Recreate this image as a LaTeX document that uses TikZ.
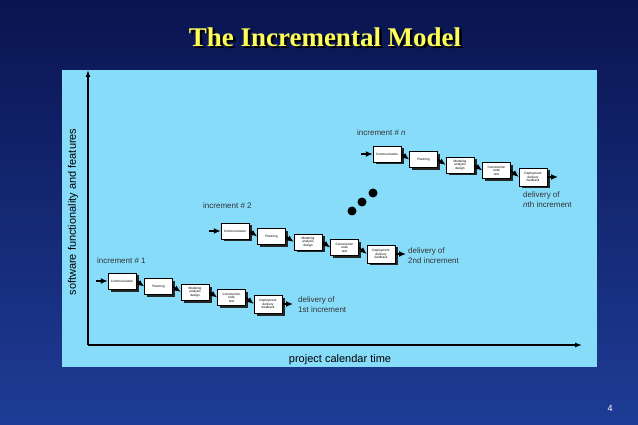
\documentclass[tikz,border=0pt]{standalone}
\usepackage{fontspec}
\setmainfont{Liberation Sans}
\newfontfamily\titlefont{Liberation Serif}
\usetikzlibrary{shadows,arrows.meta}
\definecolor{bgtop}{RGB}{10,20,80}
\definecolor{bgbot}{RGB}{30,60,150}
\definecolor{panel}{RGB}{135,220,250}
\definecolor{titleyel}{RGB}{255,255,90}
\begin{document}
\begin{tikzpicture}[x=1pt,y=-1pt,
  stepbox/.style={draw=black,fill=white,minimum width=28pt,minimum height=16pt,inner sep=0.5pt,align=center,font=\fontsize{3.2}{3.6}\selectfont,drop shadow={fill=black!85,shadow xshift=2.5pt,shadow yshift=-2.5pt,opacity=1}},
  flow/.style={-{Latex[length=7pt,width=6pt]},line width=1.6pt,black},
  lbl/.style={font=\fontsize{8}{9.5}\selectfont,text=black!80,align=left,anchor=north west,inner sep=0}]
\useasboundingbox (0,0) rectangle (638,425);
\shade[top color=bgtop,bottom color=bgbot] (0,0) rectangle (638,425);
\fill[panel] (62,70) rectangle (597,367);
\node[font=\titlefont\bfseries\fontsize{27}{30}\selectfont,text=black] (tshadow) at (327.5,39.5) {The Incremental Model};
\node[font=\titlefont\bfseries\fontsize{27}{30}\selectfont,text=titleyel] (title) at (325,37) {The Incremental Model};
\coordinate (o) at (88,345);
\coordinate (ytop) at (88,70);
\coordinate (xend) at (582,345);
\draw[-{Latex[length=7pt,width=5pt]},line width=1.2pt] (o) -- (ytop);
\draw[-{Latex[length=7pt,width=5pt]},line width=1.2pt] (o) -- (xend);
\node[rotate=90,font=\fontsize{11}{13}\selectfont] (ylab) at (73,212) {software functionality and features};
\node[font=\fontsize{11}{13}\selectfont] (xlab) at (340,360) {project calendar time};
\node[font=\fontsize{9}{11}\selectfont,text=white] (page) at (610,408) {4};
\newcommand\incr[3]{%
  \node[stepbox] (#1c1) at (#2,#3) {Communication};
  \node[stepbox] (#1c2) at (#2+36.5,#3+5.5) {Planning};
  \node[stepbox] (#1c3) at (#2+73,#3+11) {Modeling\\analysis\\design};
  \node[stepbox] (#1c4) at (#2+109.5,#3+16.5) {Construction\\code\\test};
  \node[stepbox,minimum height=18pt] (#1c5) at (#2+146,#3+23) {Deployment\\delivery\\feedback};
  \coordinate (#1in) at (#2-26,#3);
  \coordinate (#1out) at (#2+171,#3+23);
  \draw[flow] (#1in) -- (#1c1.west);
  \draw[flow] (#1c1.east) -- (#1c2.west);
  \draw[flow] (#1c2.east) -- (#1c3.west);
  \draw[flow] (#1c3.east) -- (#1c4.west);
  \draw[flow] (#1c4.east) -- (#1c5.west);
  \draw[flow] (#1c5.east) -- (#1out);
}
\incr{a}{122}{281}
\incr{b}{235}{231}
\incr{n}{387}{154}
\fill (352,211) circle (4.5pt);
\fill (362,202) circle (4.5pt);
\fill (373,193) circle (4.5pt);
\node[lbl] (l1) at (97,258) {increment \# 1};
\node[lbl] (l2) at (203,203) {increment \# 2};
\node[lbl] (ln) at (357,130) {increment \# \textit{n}};
\node[lbl] (d1) at (298,297) {delivery of\\1st increment};
\node[lbl] (d2) at (408,248) {delivery of\\2nd increment};
\node[lbl] (dn) at (523,192) {delivery of\\\textit{n}th increment};
\end{tikzpicture}
\end{document}
